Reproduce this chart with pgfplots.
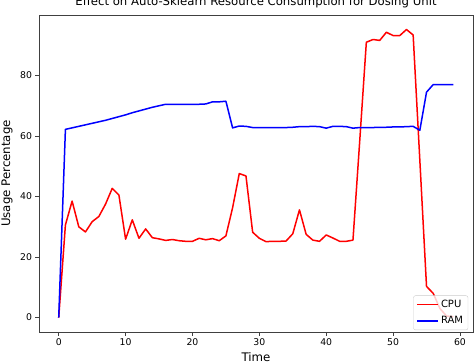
\documentclass[border=0pt]{standalone}
\usepackage{fontspec}
\setmainfont{DejaVu Sans}
\usepackage{pgfplots}
\pgfplotsset{compat=1.18}
\pgfplotstableread{
x y
0 0
1 30.6
2 38.5
3 30.0
4 28.3
5 31.7
6 33.4
7 37.5
8 42.7
9 40.5
10 25.9
11 32.3
12 26.2
13 29.3
14 26.4
15 26.0
16 25.5
17 25.8
18 25.4
19 25.2
20 25.2
21 26.2
22 25.7
23 26.1
24 25.4
25 27.0
26 36.3
27 47.6
28 46.8
29 28.2
30 26.2
31 25.1
32 25.2
33 25.2
34 25.3
35 27.7
36 35.6
37 27.5
38 25.6
39 25.2
40 27.3
41 26.3
42 25.2
43 25.2
44 25.6
45 58.0
46 91.0
47 91.9
48 91.6
49 94.3
50 93.2
51 93.2
52 95.2
53 93.4
54 52.0
55 10.3
56 8.0
57 3.0
58 0.5
59 0.3
}\cpu
\pgfplotstableread{
x y
0 0
1 62.2
2 62.7
3 63.2
4 63.7
5 64.2
6 64.7
7 65.2
8 65.8
9 66.4
10 67.0
11 67.7
12 68.3
13 68.9
14 69.5
15 70.0
16 70.5
17 70.5
18 70.5
19 70.5
20 70.5
21 70.5
22 70.6
23 71.3
24 71.3
25 71.5
26 62.7
27 63.3
28 63.2
29 62.8
30 62.8
31 62.8
32 62.8
33 62.8
34 62.8
35 62.9
36 63.1
37 63.1
38 63.2
39 63.1
40 62.6
41 63.2
42 63.2
43 63.1
44 62.6
45 62.8
46 62.8
47 62.8
48 62.9
49 62.9
50 63.0
51 63.0
52 63.1
53 63.2
54 61.9
55 74.5
56 77.0
57 77.0
58 77.0
59 77.0
}\ram
\begin{document}
\begin{tikzpicture}
\begin{axis}[
  at={(39pt,30pt)}, anchor=south west,
  scale only axis, width=434pt, height=317pt,
  xmin=-2.95, xmax=61.95, ymin=-4.77, ymax=100.0,
  xtick={0,10,...,60}, ytick={0,20,...,80},
  tick align=outside, major tick length=3.5pt,
  xtick pos=bottom, ytick pos=left,
  axis line style={black!75, line width=0.8pt},
  every tick/.style={black!75, line width=0.8pt},
  /pgf/number format/assume math mode=true,
  tick label style={font=\fontsize{9.3}{10}\selectfont},
  title={Effect on Auto-Sklearn Resource Consumption for Dosing Unit},
  title style={at={(axis description cs:0.5,1.0126)}, anchor=base, font=\fontsize{11.7}{13}\selectfont, inner sep=0pt},
  xlabel={Time},
  xlabel style={at={(axis description cs:0.5,-0.0915)}, anchor=base, font=\fontsize{11.8}{13}\selectfont, inner sep=0pt},
  ylabel={Usage Percentage},
  ylabel style={at={(axis description cs:-0.0668,0.5)}, anchor=base, font=\fontsize{11.8}{13}\selectfont, inner sep=0pt},
  legend style={at={(axis description cs:0.989,0.006)}, anchor=south east,
    font=\fontsize{10}{11}\selectfont, draw=black!20, rounded corners=2pt,
    fill=white, fill opacity=0.8, text opacity=1, row sep=3.5pt,
    inner xsep=3pt, inner ysep=2.5pt},
  legend cell align=left,
  legend image code/.code={\draw[#1, line width=1.5pt] (0pt,0pt) -- (21pt,0pt);},
]
\addplot[red, line width=1.5pt, line join=round] table[x=x,y=y] {\cpu};
\addlegendentry{CPU}
\addplot[blue, line width=1.5pt, line join=round] table[x=x,y=y] {\ram};
\addlegendentry{RAM}
\end{axis}
\pgfresetboundingbox
\path[use as bounding box] (0,0) rectangle (474pt,362pt);
\end{tikzpicture}
\end{document}
